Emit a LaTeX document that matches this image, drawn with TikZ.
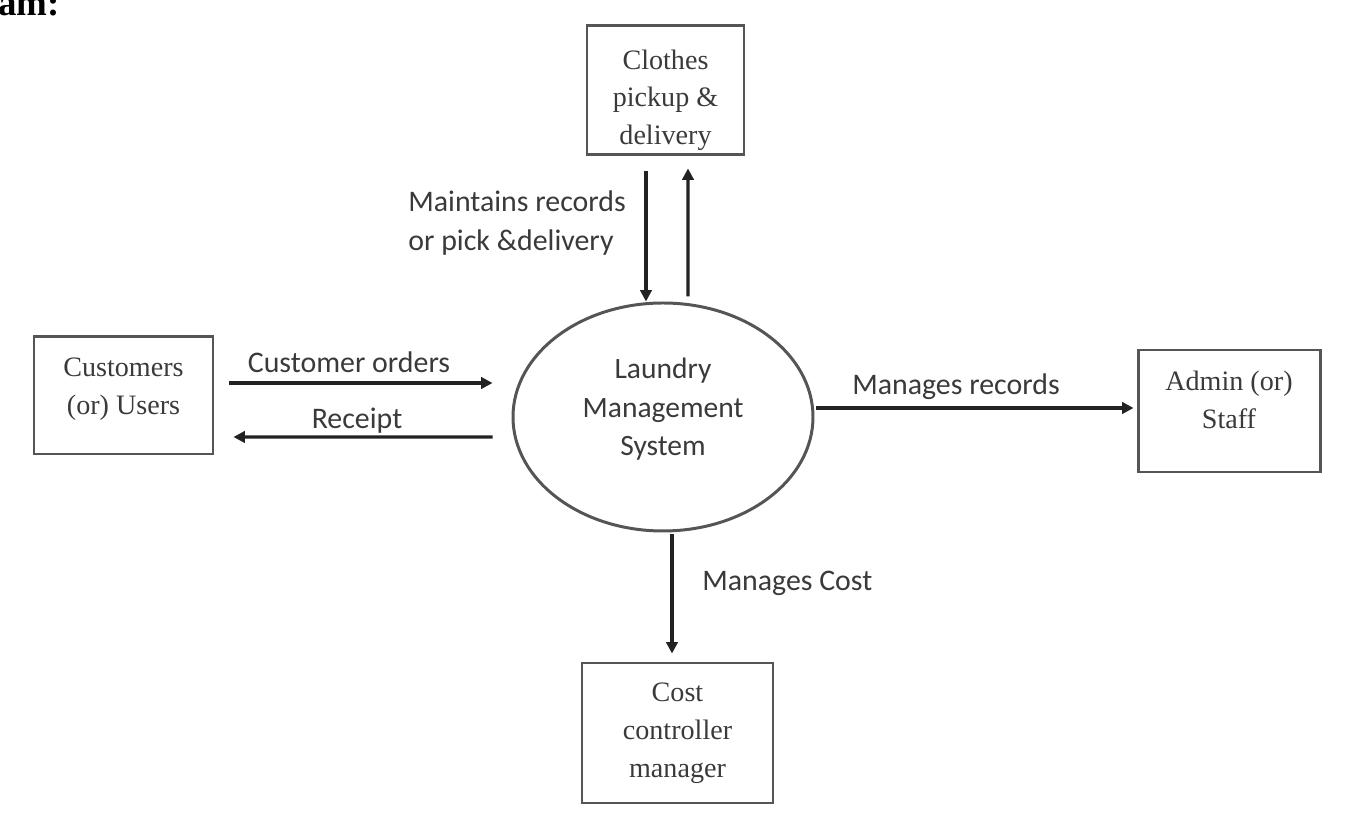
\documentclass[tikz,border=0pt]{standalone}
\usepackage{fontspec}
\setmainfont{Liberation Serif}
\newfontfamily\labelfont{Carlito}
\usetikzlibrary{arrows.meta,shapes.geometric,calc}
\definecolor{boxgray}{HTML}{555555}
\definecolor{textgray}{HTML}{3A3A3A}
\definecolor{arrowdark}{HTML}{222222}
\begin{document}
\begin{tikzpicture}[x=0.02cm,y=-0.02cm,
  entity/.style={draw=boxgray, line width=1.7pt, inner sep=0pt, align=center, text=textgray,
     font=\fontsize{16}{21.5}\selectfont},
  process/.style={ellipse, draw=boxgray, line width=1.7pt, inner sep=0pt, align=center, text=textgray,
     minimum width={300*0.02cm}, minimum height={228*0.02cm}, font=\labelfont\fontsize{16.8}{22}\selectfont},
  flow/.style={draw=arrowdark, line width=1.8pt, -{Triangle[length=6.5pt,width=6.5pt]}},
  flowlabel/.style={text=textgray, font=\labelfont\fontsize{17}{22.5}\selectfont, inner sep=0pt}
]
\useasboundingbox (0,0) rectangle (1347,813);
\begin{scope}
\clip (0,0) rectangle (1347,813);
\node[anchor=base west, inner sep=0pt, font=\bfseries\fontsize{21}{21}\selectfont] (title) at (-2,16) {am:};
\end{scope}

\node[entity, minimum width={157*0.02cm}, minimum height={129*0.02cm}] (clothes) at (665.5,90.5) {Clothes\\pickup \&\\delivery\\[-29pt]};
\node[entity, minimum width={179*0.02cm}, minimum height={117*0.02cm}] (cust) at (123.5,395.5) {Customers\\(or) Users\\[-11.3pt]};
\node[entity, minimum width={182*0.02cm}, minimum height={122*0.02cm}] (admin) at (1229,411) {Admin (or)\\Staff\\[-9pt]};
\node[entity, minimum width={191*0.02cm}, minimum height={140*0.02cm}] (cost) at (677.5,733) {Cost\\controller\\manager};
\node[process] (sys) at (663,417) {Laundry\\Management\\System\\[-10.7pt]};

\draw[flow] ($(clothes.south)+(-19.5,15)$) -- ($(sys.north)+(-17,0)$);
\draw[flow] ($(sys.north)+(25,-5)$) -- ($(clothes.south)+(22.5,12)$);
\draw[flow] ($(cust.east)+(15,-12.5)$) -- ($(sys.west)+(-19,-34)$);
\draw[flow] ($(sys.west)+(-19,20)$) -- ($(cust.east)+(19,41.5)$);
\draw[flow] ($(sys.east)+(2,-9)$) -- ($(admin.west)+(-3,-3)$);
\draw[flow] ($(sys.south)+(9,2)$) -- ($(cost.north)+(-5.5,-8)$);

\node[flowlabel, anchor=west, align=left] (lmaint) at (408,223) {Maintains records\\or pick \&delivery};
\node[flowlabel] (lorders) at (349,362) {Customer orders};
\node[flowlabel] (lreceipt) at (357,421) {Receipt};
\node[flowlabel] (lrecords) at (956,387) {Manages records};
\node[flowlabel, anchor=west] (lcost) at (702,583) {Manages Cost};
\end{tikzpicture}
\end{document}
